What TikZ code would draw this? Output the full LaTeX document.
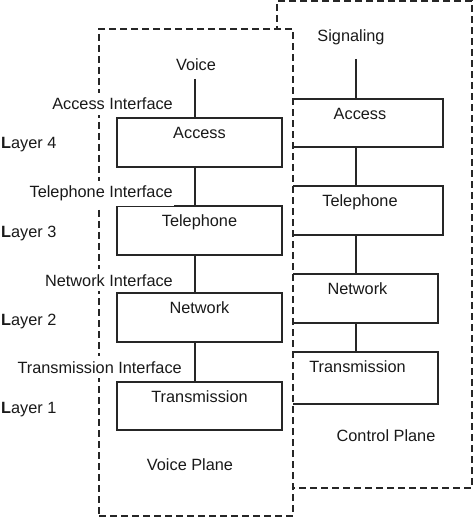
\documentclass[tikz,border=0pt]{standalone}
\usepackage{fontspec}
\setmainfont{Liberation Sans}
\begin{document}
\begin{tikzpicture}[x=1pt,y=-1pt,
  plane/.style={draw=black!85, dash pattern=on 7pt off 4pt, line width=1.8pt, inner sep=0pt},
  box/.style={draw=black!85, line width=1.2pt, inner sep=0pt, fill=white},
  conn/.style={draw=black!85, line width=1.2pt},
  txt/.style={inner sep=0pt, font=\fontsize{16.3}{19}\selectfont, text=black!90},
  iface/.style={txt, fill=white, inner xsep=1pt, inner ysep=5pt}
]
\useasboundingbox (0,0) rectangle (474,518);
% ---- control plane ----
\node[plane, minimum width=195pt, minimum height=487pt] (cplane) at (374.5,244.5) {};
\node[box, minimum width=166pt, minimum height=48pt] (cA) at (360,123) {};
\node[box, minimum width=166pt, minimum height=49pt] (cT) at (360,210.5) {};
\node[box, minimum width=161pt, minimum height=49pt] (cN) at (357.5,298.5) {};
\node[box, minimum width=161pt, minimum height=52pt] (cX) at (357.5,378) {};
\coordinate (ccol) at (356,0);
\coordinate (ctop) at (356,59);
\draw[conn] (ctop) -- (cA.north -| ccol);
\draw[conn] (cA.south -| ccol) -- (cT.north -| ccol);
\draw[conn] (cT.south -| ccol) -- (cN.north -| ccol);
\draw[conn] (cN.south -| ccol) -- (cX.north -| ccol);
\node[txt, anchor=base] (sig) at (351,42) {Signaling};
\node[txt, anchor=base] at ([yshift=-21pt]cA.north) {Access};
\node[txt, anchor=base] at ([yshift=-21pt]cT.north) {Telephone};
\node[txt, anchor=base] at ([yshift=-21pt]cN.north) {Network};
\node[txt, anchor=base] at ([yshift=-21pt]cX.north) {Transmission};
\node[txt, anchor=base] (cpl) at (386,441) {Control Plane};
% ---- voice plane ----
\node[plane, fill=white, minimum width=194pt, minimum height=487pt] (vplane) at (196,272.5) {};
\node[box, minimum width=165pt, minimum height=49pt] (vA) at (199.5,142.5) {};
\node[box, minimum width=165pt, minimum height=49pt] (vT) at (199.5,230.5) {};
\node[box, minimum width=165pt, minimum height=49pt] (vN) at (199.5,317.5) {};
\node[box, minimum width=165pt, minimum height=48pt] (vX) at (199.5,406) {};
\coordinate (vcol) at (195,0);
\coordinate (vtop) at (195,79);
\draw[conn] (vtop) -- (vA.north -| vcol);
\draw[conn] (vA.south -| vcol) -- (vT.north -| vcol);
\draw[conn] (vT.south -| vcol) -- (vN.north -| vcol);
\draw[conn] (vN.south -| vcol) -- (vX.north -| vcol);
\node[txt, anchor=base] (voice) at (196,71) {Voice};
\node[txt, anchor=base] at ([yshift=-21pt]vA.north) {Access};
\node[txt, anchor=base] at ([yshift=-21pt]vT.north) {Telephone};
\node[txt, anchor=base] at ([yshift=-21pt]vN.north) {Network};
\node[txt, anchor=base] at ([yshift=-21pt]vX.north) {Transmission};
\node[txt, anchor=base] (vpl) at (190,470) {Voice Plane};
% interfaces
\node[iface, anchor=base east] (i4) at (174,110) {Access Interface};
\node[iface, anchor=base east] (i3) at (174,198) {Telephone Interface};
\node[iface, anchor=base east] (i2) at (174,286) {Network Interface};
\node[iface, anchor=base east] (i1) at (183,373) {Transmission Interface};
% layers
\node[txt, anchor=base west] (l4) at (1,149) {{\bfseries L}ayer 4};
\node[txt, anchor=base west] (l3) at (1,237) {{\bfseries L}ayer 3};
\node[txt, anchor=base west] (l2) at (1,325) {{\bfseries L}ayer 2};
\node[txt, anchor=base west] (l1) at (1,413) {{\bfseries L}ayer 1};
\end{tikzpicture}
\end{document}
